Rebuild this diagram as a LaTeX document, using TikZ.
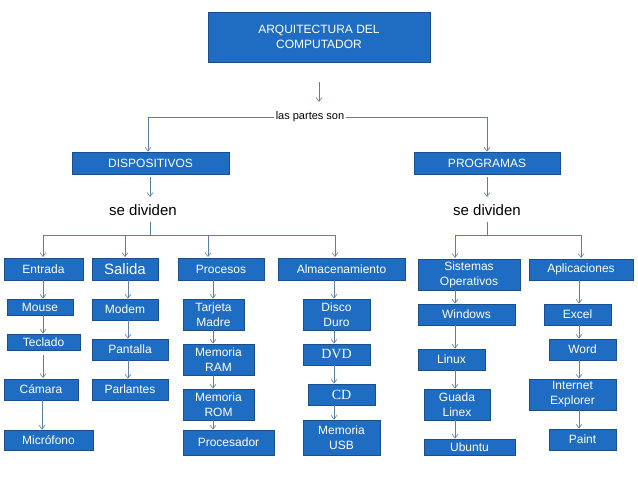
\documentclass[tikz,border=0pt]{standalone}
\usepackage{fontspec}
\setmainfont{Liberation Sans}
\newfontfamily\serifx{Liberation Serif}
\usetikzlibrary{arrows.meta}
\definecolor{boxfill}{HTML}{1F6DC2}
\definecolor{boxline}{HTML}{1B4F8C}
\definecolor{arr}{HTML}{5A7EA6}
\begin{document}
\begin{tikzpicture}[x=1pt,y=-1pt,
 bx/.style={draw=boxline,fill=boxfill,text=white,line width=0.8pt,inner sep=0pt,align=center,font=\fontsize{12}{15}\selectfont},
 ar/.style={draw=arr,line width=0.6pt,-{Straight Barb[length=4pt,width=6pt]}},
 ln/.style={draw=arr,line width=0.6pt}]
\useasboundingbox (0,0) rectangle (638,479);
\newcommand\bb[6]{\node[bx,minimum width=#4-#3,minimum height=#6-#5] (#1) at ({(#3+#4)/2},{(#5+#6)/2}) {#2};}
\bb{top}{ARQUITECTURA DEL\\COMPUTADOR}{208}{430}{12}{62}
\bb{disp}{DISPOSITIVOS}{72}{229}{152}{174}
\bb{prog}{PROGRAMAS}{414}{560}{152}{174}
\node[font=\fontsize{11}{12}\selectfont,fill=white,inner sep=2pt] (partes) at (310,117) {las partes son};
\node[font=\fontsize{15}{16}\selectfont] (sd1) at (143,210) {se dividen};
\node[font=\fontsize{15}{16}\selectfont] (sd2) at (487,210) {se dividen};
\coordinate (t0) at (319,82);
\draw[ar] (t0) -- (319,102);
\coordinate (hl) at (148,117); \coordinate (hr) at (487,117);
\draw[ln] (hl) -- (partes.west); \draw[ln] (partes.east) -- (hr);
\draw[ar] (hl) -- (hl |- disp.north);
\draw[ar] (hr) -- (hr |- prog.north);
\draw[ar] (150,177) -- (150,197);
\draw[ar] (487,177) -- (487,197);
% level 2
\bb{ent}{Entrada}{4}{83}{258}{280}
\node[bx,minimum width=66,minimum height=22,font=\fontsize{15}{16}\selectfont] (sal) at (125,269) {Salida};
\bb{proc}{Procesos}{178}{264}{258}{280}
\bb{alm}{Almacenamiento}{278}{405}{258}{280}
\bb{so}{Sistemas\\Operativos}{418}{520}{259}{290}
\bb{apl}{Aplicaciones}{529}{633}{259}{280}
\draw[ln] (150,222) -- (150,235);
\draw[ln] (43,235) -- (335,235);
\foreach \x in {43,125,208,335} \draw[ar] (\x,235) -- (\x,257);
\draw[ln] (487,222) -- (487,235);
\draw[ln] (455,235) -- (581,235);
\foreach \x in {455,581} \draw[ar] (\x,235) -- (\x,258);
% columns
\bb{mou}{Mouse}{7}{73}{299}{315}
\bb{tec}{Teclado}{7}{80}{334}{350}
\bb{cam}{Cámara}{4}{78}{379}{400}
\bb{mic}{Micrófono}{4}{93}{430}{450}
\bb{mod}{Modem}{92}{158}{299}{320}
\bb{pan}{Pantalla}{92}{168}{339}{360}
\bb{par}{Parlantes}{92}{168}{379}{400}
\bb{tar}{Tarjeta\\Madre}{183}{244}{299}{330}
\bb{ram}{Memoria\\RAM}{183}{254}{344}{375}
\bb{rom}{Memoria\\ROM}{183}{254}{389}{420}
\bb{pro}{Procesador}{183}{274}{430}{455}
\bb{dis}{Disco\\Duro}{303}{370}{299}{330}
\bb{dvd}{\fontsize{14}{15}\serifx DVD}{303}{370}{344}{365}
\bb{cd}{\fontsize{14}{15}\serifx CD}{308}{375}{384}{405}
\bb{usb}{Memoria\\USB}{303}{380}{420}{455}
\bb{win}{Windows}{418}{515}{304}{325}
\bb{lin}{Linux}{418}{485}{349}{370}
\bb{gua}{Guada\\Linex}{424}{490}{389}{420}
\bb{ubu}{Ubuntu}{424}{515}{439}{455}
\bb{exc}{Excel}{544}{611}{304}{325}
\bb{wor}{Word}{549}{616}{339}{360}
\bb{ie}{Internet\\Explorer}{529}{616}{379}{410}
\bb{pai}{Paint}{549}{616}{429}{450}
\newcommand\ch[3]{\draw[ar] (#1.south -| #3,0) -- (#3,0 |- #2.north);}
\ch{ent}{mou}{43}\ch{mou}{tec}{43}
\draw[ar] (43,355) -- (43,378);
\ch{cam}{mic}{42}
\ch{sal}{mod}{128}\ch{mod}{pan}{128}\ch{pan}{par}{128}
\ch{proc}{tar}{213}\ch{tar}{ram}{213}\ch{ram}{rom}{213}\ch{rom}{pro}{213}
\ch{alm}{dis}{334}\ch{dis}{dvd}{334}\ch{dvd}{cd}{334}\ch{cd}{usb}{334}
\ch{so}{win}{455}\ch{win}{lin}{455}\ch{lin}{gua}{455}\ch{gua}{ubu}{455}
\ch{apl}{exc}{579}\ch{exc}{wor}{579}\ch{wor}{ie}{579}\ch{ie}{pai}{579}
\end{tikzpicture}
\end{document}
